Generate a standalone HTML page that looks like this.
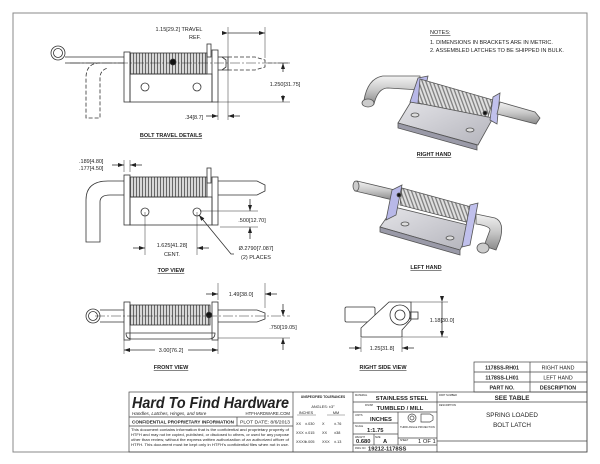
<!DOCTYPE html>
<html><head><meta charset="utf-8"><style>
html,body{margin:0;padding:0;background:#fff}
svg{display:block}
text{font-family:"Liberation Sans",sans-serif;fill:#222}
</style></head><body>
<svg width="600" height="464" viewBox="0 0 600 464" xmlns="http://www.w3.org/2000/svg">
<defs>
<linearGradient id="rod" x1="0" y1="0" x2="0" y2="1"><stop offset="0" stop-color="#f2f2f2"/><stop offset=".5" stop-color="#c8c8c8"/><stop offset="1" stop-color="#8a8a8a"/></linearGradient>
<linearGradient id="pl" x1="0" y1="0" x2="1" y2="1"><stop offset="0" stop-color="#e4e4e8"/><stop offset="1" stop-color="#b4b4bc"/></linearGradient>
<pattern id="sp" width="3" height="10" patternUnits="userSpaceOnUse"><rect width="3" height="10" fill="#ddd"/><line x1="1.5" y1="0" x2="1.5" y2="10" stroke="#666" stroke-width="1.1"/></pattern>
<pattern id="sp2" width="3.4" height="10" patternUnits="userSpaceOnUse" patternTransform="rotate(-20)"><rect width="4" height="10" fill="#e0e0e0"/><line x1="1.7" y1="0" x2="1.7" y2="10" stroke="#777" stroke-width="1.2"/></pattern>
<marker id="a" markerWidth="6" markerHeight="4" refX="6" refY="2" orient="auto" markerUnits="userSpaceOnUse"><path d="M0,0 L6,2 L0,4z" fill="#222"/></marker>
</defs>
<g fill="none" stroke="#333" stroke-width=".8">
<rect x="13" y="13" width="574" height="439" stroke="#888" stroke-width="1"/>

<!-- BOLT TRAVEL DETAILS -->
<circle cx="58" cy="53" r="7"/><circle cx="58" cy="53" r="4.5"/>
<path d="M65,57 H124 M65,63 H124" />
<path d="M100,63 Q86,63 86,78 V118 H100 V78 Q100,70 108,68" stroke-dasharray="4,2"/>
<rect x="124" y="52" width="6" height="50"/>
<rect x="130" y="53" width="77" height="21" fill="url(#sp)"/>
<rect x="130" y="74" width="82" height="28"/>
<rect x="212" y="50" width="6" height="52"/>
<rect x="207" y="44" width="4" height="13"/>
<path d="M218,57 H228 L228,70 H218" /><path d="M222,57 L226,60 V67 L222,70"/>
<path d="M228,57 H255 L265,60 V67 L255,70 H228" stroke-dasharray="4,2"/>
<line x1="70" y1="63" x2="290" y2="63" stroke-dasharray="10,2,2,2" stroke-width=".5"/>
<circle cx="173" cy="62" r="3" fill="#111"/>
<circle cx="145" cy="87" r="4"/><circle cx="197" cy="87" r="4"/>
<line x1="228" y1="27" x2="228" y2="120" stroke-width=".5"/><line x1="265" y1="27" x2="265" y2="58" stroke-width=".5"/>
<line x1="228" y1="33" x2="265" y2="33" marker-start="url(#a)" marker-end="url(#a)"/>
<line x1="218" y1="102" x2="290" y2="102" stroke-width=".5"/><line x1="268" y1="63" x2="290" y2="63" stroke-width=".5"/>
<line x1="283" y1="72" x2="283" y2="63" marker-end="url(#a)"/><line x1="283" y1="95" x2="283" y2="102" marker-end="url(#a)"/>
<line x1="218" y1="102" x2="218" y2="120" stroke-width=".5"/>
<line x1="206" y1="116" x2="218" y2="116" marker-end="url(#a)"/><line x1="240" y1="116" x2="228" y2="116" marker-end="url(#a)"/>

<!-- TOP VIEW -->
<path d="M124,181 H108 Q86,181 86,200 V242 H100 V202 Q100,195 110,195 H124"/>
<rect x="124" y="175" width="6" height="50"/>
<rect x="130" y="177" width="77" height="20" fill="url(#sp)"/>
<rect x="130" y="197" width="82" height="28"/>
<rect x="212" y="177" width="6" height="48"/>
<rect x="207" y="168" width="4" height="15"/>
<path d="M218,181 H257 L265,185 V191 L257,195 H218"/>
<circle cx="145" cy="212" r="4"/><circle cx="197" cy="212" r="4"/>
<line x1="145" y1="212" x2="145" y2="255" stroke-width=".5"/><line x1="197" y1="212" x2="197" y2="255" stroke-width=".5"/>
<line x1="133" y1="248" x2="145" y2="248" marker-end="url(#a)"/><line x1="209" y1="248" x2="197" y2="248" marker-end="url(#a)"/>
<line x1="124" y1="160" x2="124" y2="172" stroke-width=".5"/><line x1="130" y1="160" x2="130" y2="172" stroke-width=".5"/>
<line x1="112" y1="165" x2="124" y2="165" marker-end="url(#a)"/><line x1="142" y1="165" x2="130" y2="165" marker-end="url(#a)"/>
<line x1="200" y1="211" x2="258" y2="211" stroke-width=".5"/><line x1="220" y1="227" x2="258" y2="227" stroke-width=".5"/>
<line x1="250" y1="199" x2="250" y2="211" marker-end="url(#a)"/><line x1="250" y1="239" x2="250" y2="227" marker-end="url(#a)"/>
<path d="M234,254 H231 L199,215" marker-end="url(#a)"/>

<!-- FRONT VIEW -->
<circle cx="93" cy="316" r="7"/><circle cx="93" cy="316" r="4.5"/>
<path d="M100,310 H124 M100,322 H124"/>
<rect x="124" y="302" width="6" height="38"/>
<rect x="130" y="305" width="80" height="20" fill="url(#sp)"/>
<path d="M126,333 Q126,339 132,339 H209 Q215,339 215,333 Z"/>
<rect x="212" y="302" width="6" height="38"/>
<path d="M218,310 H257 L265,313 V319 L257,322 H218"/>
<circle cx="209" cy="315" r="2.8" fill="#111"/>
<line x1="95" y1="316" x2="290" y2="316" stroke-dasharray="10,2,2,2" stroke-width=".5"/>
<line x1="265" y1="283" x2="265" y2="308" stroke-width=".5"/><line x1="218" y1="283" x2="218" y2="300" stroke-width=".5"/>
<line x1="206" y1="294" x2="218" y2="294" marker-end="url(#a)"/><line x1="277" y1="294" x2="265" y2="294" marker-end="url(#a)"/>
<line x1="218" y1="338" x2="290" y2="338" stroke-width=".5"/>
<line x1="283" y1="304" x2="283" y2="316" marker-end="url(#a)"/><line x1="283" y1="350" x2="283" y2="338" marker-end="url(#a)"/>
<line x1="124" y1="340" x2="124" y2="354" stroke-width=".5"/><line x1="218" y1="340" x2="218" y2="354" stroke-width=".5"/>
<line x1="155" y1="350" x2="124" y2="350" marker-end="url(#a)"/><line x1="188" y1="350" x2="218" y2="350" marker-end="url(#a)"/>

<!-- RIGHT SIDE VIEW -->
<rect x="345" y="307" width="30" height="15" rx="1.5"/>
<path d="M361,337 V328 L389,302 H411 V320 L402,330 V337 Z" fill="#fff"/>
<circle cx="400" cy="315" r="10"/><circle cx="400" cy="315" r="5"/>
<rect x="410" y="312" width="8" height="7"/>
<line x1="411" y1="302" x2="448" y2="302" stroke-width=".5"/><line x1="402" y1="337" x2="448" y2="337" stroke-width=".5"/>
<line x1="442" y1="302" x2="442" y2="337" marker-start="url(#a)" marker-end="url(#a)"/>
<line x1="361" y1="338" x2="361" y2="352" stroke-width=".5"/><line x1="402" y1="338" x2="402" y2="352" stroke-width=".5"/>
<line x1="349" y1="348" x2="361" y2="348" marker-end="url(#a)"/><line x1="414" y1="348" x2="402" y2="348" marker-end="url(#a)"/>
</g>

<!-- Isometric RIGHT HAND -->
<g stroke="#555" stroke-width=".8">
<path d="M420,76 L383,76 Q368,78 364,100 L374,104 Q378,88 388,88 L420,90 Z" fill="url(#rod)"/>
<ellipse cx="368" cy="103" rx="6" ry="4" fill="#ccc"/>
<path d="M398,123 L412,100 L493,118 L478,145 Z" fill="url(#pl)"/>
<path d="M398,123 L477,145 L477,150 L398,128 Z" fill="#9a9aa8"/>
<path d="M410,102 L418,78 L428,76 L422,104 Z" fill="#b8b8e8"/>
<path d="M420,79 L493,100 L488,117 L418,103 Z" fill="url(#sp2)"/>
<path d="M490,120 L493,97 L500,93 L497,124 Z" fill="#c0c0ec"/>
<path d="M500,102 L535,112 L540,118 L536,124 L497,114 Z" fill="url(#rod)"/>
<ellipse cx="415" cy="115" rx="4" ry="2" fill="#ddd"/><ellipse cx="470" cy="130" rx="4" ry="2" fill="#ddd"/>
<circle cx="485" cy="113" r="2" fill="#111"/>
</g>
<!-- Isometric LEFT HAND -->
<g stroke="#555" stroke-width=".8">
<path d="M357,181 L395,190 L393,200 L355,191 Z" fill="url(#rod)"/>
<ellipse cx="356" cy="186" rx="3" ry="5" fill="#ccc"/>
<path d="M380,227 L394,207 L472,226 L460,250 Z" fill="url(#pl)"/>
<path d="M380,227 L460,250 L460,255 L380,232 Z" fill="#9a9aa8"/>
<path d="M392,190 L402,185 L396,215 L386,220 Z" fill="#b8b8e8"/>
<path d="M402,188 L475,208 L470,223 L400,205 Z" fill="url(#sp2)"/>
<path d="M470,205 L478,203 L470,245 L462,247 Z" fill="#c0c0ec"/>
<path d="M476,214 L495,218 Q505,222 500,240 L496,250 L484,246 L490,230 Q490,226 476,224 Z" fill="url(#rod)"/>
<ellipse cx="483" cy="248" rx="6" ry="5" fill="#ccc"/>
<circle cx="399" cy="195" r="2" fill="#111"/>
<ellipse cx="405" cy="224" rx="4" ry="2" fill="#ddd"/><ellipse cx="450" cy="238" rx="4" ry="2" fill="#ddd"/>
</g>

<!-- labels -->
<g font-size="5.5">
<text x="179" y="31" text-anchor="middle">1.15[29.2] TRAVEL</text>
<text x="189" y="39">REF.</text>
<text x="285" y="86" text-anchor="middle">1.250[31.75]</text>
<text x="194" y="119" text-anchor="middle">.34[8.7]</text>
<text x="171" y="137" text-anchor="middle" font-weight="bold" text-decoration="underline">BOLT TRAVEL DETAILS</text>
<text x="79" y="163">.189[4.80]</text><text x="79" y="170">.177[4.50]</text>
<text x="252" y="222" text-anchor="middle">.500[12.70]</text>
<text x="172" y="247" text-anchor="middle">1.625[41.28]</text>
<text x="172" y="256" text-anchor="middle">CENT.</text>
<text x="256" y="250" text-anchor="middle">Ø.2790[7.087]</text>
<text x="256" y="259" text-anchor="middle">(2) PLACES</text>
<text x="171" y="272" text-anchor="middle" font-weight="bold" text-decoration="underline">TOP VIEW</text>
<text x="241" y="296" text-anchor="middle">1.49[38.0]</text>
<text x="283" y="329" text-anchor="middle">.750[19.05]</text>
<text x="171" y="352" text-anchor="middle">3.00[76.2]</text>
<text x="171" y="369" text-anchor="middle" font-weight="bold" text-decoration="underline">FRONT VIEW</text>
<text x="442" y="322" text-anchor="middle">1.18[30.0]</text>
<text x="382" y="350" text-anchor="middle">1.25[31.8]</text>
<text x="383" y="369" text-anchor="middle" font-weight="bold" text-decoration="underline">RIGHT SIDE VIEW</text>
<text x="434" y="156" text-anchor="middle" font-weight="bold" text-decoration="underline">RIGHT HAND</text>
<text x="426" y="269" text-anchor="middle" font-weight="bold" text-decoration="underline">LEFT HAND</text>
<text x="430" y="34" text-decoration="underline">NOTES:</text>
<text x="430" y="44">1.   DIMENSIONS IN BRACKETS ARE IN METRIC.</text>
<text x="430" y="52">2.   ASSEMBLED LATCHES TO BE SHIPPED IN BULK.</text>
</g>

<!-- part table -->
<g fill="none" stroke="#444" stroke-width=".7">
<rect x="474" y="362" width="113" height="30"/>
<line x1="474" y1="372" x2="587" y2="372"/><line x1="474" y1="382" x2="587" y2="382"/>
<line x1="530" y1="362" x2="530" y2="392"/>
<rect x="129" y="392" width="458" height="60"/>
<line x1="293" y1="392" x2="293" y2="452"/><line x1="353" y1="392" x2="353" y2="452"/><line x1="437" y1="392" x2="437" y2="452"/>
<line x1="129" y1="417" x2="293" y2="417"/><line x1="129" y1="426" x2="293" y2="426"/><line x1="237" y1="417" x2="237" y2="426"/>
<line x1="353" y1="402" x2="437" y2="402"/><line x1="353" y1="412" x2="437" y2="412"/>
<line x1="353" y1="423" x2="398" y2="423"/><line x1="353" y1="434" x2="398" y2="434"/>
<line x1="398" y1="412" x2="398" y2="445"/><line x1="353" y1="445" x2="437" y2="445"/>
<line x1="374" y1="434" x2="374" y2="445"/><line x1="398" y1="438" x2="437" y2="438"/>
<line x1="437" y1="402" x2="587" y2="402"/><line x1="437" y1="441" x2="587" y2="441"/>
<line x1="297" y1="415" x2="316" y2="415" stroke-width=".4"/><line x1="327" y1="415" x2="345" y2="415" stroke-width=".4"/>
<circle cx="412" cy="418" r="4"/><circle cx="412" cy="418" r="2"/>
<path d="M421,414 H430 L433,416 V420 L430,422 H421 Z"/>
</g>
<g font-size="5.3" font-weight="bold" text-anchor="middle">
<text x="502" y="369.5">1178SS-RH01</text><text x="502" y="379.5">1178SS-LH01</text><text x="502" y="389.5">PART NO.</text>
<text x="558" y="369.5" font-weight="normal">RIGHT HAND</text><text x="558" y="379.5" font-weight="normal">LEFT HAND</text><text x="558" y="389.5">DESCRIPTION</text>
</g>
<text x="132" y="408" font-size="16" font-weight="bold" font-style="italic" fill="#111" textLength="157" lengthAdjust="spacingAndGlyphs">Hard To Find Hardware</text>
<text x="132" y="415" font-size="4.6" font-style="italic" fill="#555">Handles, Latches, Hinges, and More</text>
<text x="290" y="415" font-size="4.3" fill="#555" text-anchor="end">HTFHARDWARE.COM</text>
<text x="132" y="423.5" font-size="4.2" font-weight="bold" textLength="102" lengthAdjust="spacingAndGlyphs">CONFIDENTIAL PROPRIETARY INFORMATION</text>
<text x="240" y="423.5" font-size="4.2" textLength="50" lengthAdjust="spacingAndGlyphs">PLOT DATE:  8/6/2013</text>
<g font-size="3.5" fill="#444"><text x="131" y="431" textLength="158" lengthAdjust="spacingAndGlyphs">This document contains information that is the confidential and proprietary property of</text>
<text x="131" y="436" textLength="158" lengthAdjust="spacingAndGlyphs">HTFH and may not be copied, published, or disclosed to others, or used for any purpose</text>
<text x="131" y="441" textLength="158" lengthAdjust="spacingAndGlyphs">other than review, without the express written authorization of an authorized officer of</text>
<text x="131" y="446" textLength="158" lengthAdjust="spacingAndGlyphs">HTFH. This document must be kept only in HTFH's confidential files when not in use.</text></g>
<g font-size="3.8" fill="#333">
<text x="323" y="398" text-anchor="middle" font-weight="bold" font-size="3.2">UNSPECIFIED TOLERANCES</text>
<text x="323" y="408" text-anchor="middle">ANGLES: ±3°</text>
<text x="306" y="414" text-anchor="middle">INCHES</text><text x="336" y="414" text-anchor="middle">MM</text>
<text x="296" y="425">XX</text><text x="305" y="425">±.030</text><text x="322" y="425">X</text><text x="334" y="425">±.76</text>
<text x="296" y="434">XXX</text><text x="305" y="434">±.015</text><text x="322" y="434">XX</text><text x="334" y="434">±38</text>
<text x="296" y="443">XXXX</text><text x="305" y="443">±.005</text><text x="322" y="443">XXX</text><text x="334" y="443">±.13</text>
<text x="400" y="428" font-size="2.6">THIRD ANGLE PROJECTION</text>
</g>
<g font-size="5.8" font-weight="bold" fill="#333">
<text x="402" y="400" text-anchor="middle">STAINLESS STEEL</text>
<text x="400" y="410" text-anchor="middle">TUMBLED / MILL</text>
<text x="370" y="421">INCHES</text>
<text x="367" y="432">1:1.75</text>
<text x="356" y="443">0.680</text>
<text x="383" y="443">A</text>
<text x="418" y="443" font-weight="normal">1  OF  1</text>
<text x="368" y="450.5">19212-1178SS</text>
<text x="512" y="400" text-anchor="middle" font-size="6.3">SEE TABLE</text>
<text x="512" y="417" text-anchor="middle" font-weight="normal" font-size="6.3">SPRING LOADED</text>
<text x="512" y="427" text-anchor="middle" font-weight="normal" font-size="6.3">BOLT LATCH</text>
</g>
<g font-size="2.5" fill="#777"><text x="355" y="396">MATERIAL</text><text x="365" y="406">FINISH</text><text x="355" y="416">UNITS</text><text x="355" y="427">SCALE</text><text x="355" y="438">WEIGHT</text><text x="375" y="438">SIZE</text><text x="400" y="441">SHEET</text><text x="355" y="449">DWG NO</text><text x="439" y="396">PART NUMBER</text><text x="439" y="406">DESCRIPTION</text></g>
</svg>
</body></html>
